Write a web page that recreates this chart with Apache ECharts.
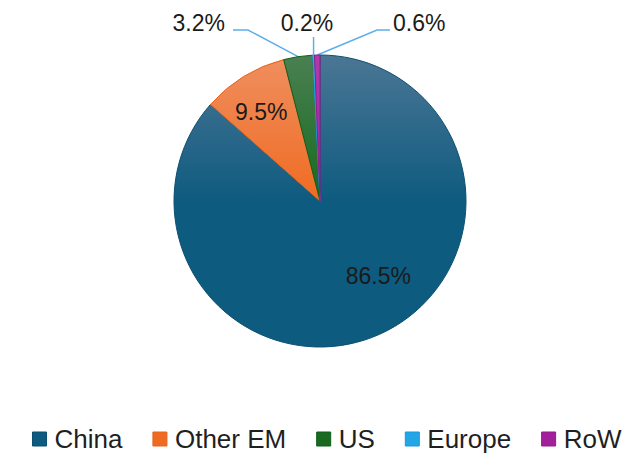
<!DOCTYPE html>
<html>
<head>
<meta charset="utf-8">
<style>
  html, body { margin: 0; padding: 0; background: #fff; }
  #chart { width: 640px; height: 461px; }
</style>
<script src="https://cdn.jsdelivr.net/npm/echarts@6/dist/echarts.min.js"></script>
</head>
<body>
<div id="chart"></div>
<script>
var regions = ['China', 'Other EM', 'US', 'Europe', 'RoW'];
var shares = [86.5, 9.5, 3.2, 0.2, 0.6];

// colours: top of gradient, bottom of gradient, border, legend swatch
var topColors = ['#4b7694', '#ef8e5e', '#4a8052', '#47b3ec', '#b23aaa'];
var baseColors = ['#0e5b80', '#f06b22', '#176a1f', '#22a6e6', '#a3209b'];
var borderColors = ['#0b4f72', '#e8641c', '#0f5e18', '#1a98d8', '#941a8c'];
var insideLabel = [true, true, false, false, false];

(function() {
  var chart = echarts.init(document.getElementById('chart'), null, { renderer: 'svg' });
  var font = 'Liberation Sans';
  var cx = 320, cy = 201, r = 146;
  var labelY = cy - r - 32;

  // nudges for the two inside labels
  var insideShift = { 0: [27, 6], 1: [-19, -24] };

  var pieData = regions.map(function(name, i) {
    var item = {
      name: name,
      value: shares[i],
      itemStyle: {
        color: {
          type: 'linear', x: 0, y: 0, x2: 0, y2: 1,
          colorStops: [
            { offset: 0, color: topColors[i] },
            { offset: i === 0 ? 0.5 : 1, color: baseColors[i] },
            { offset: 1, color: baseColors[i] }
          ]
        },
        borderColor: borderColors[i],
        borderWidth: 1
      }
    };
    if (insideLabel[i]) {
      item.label = { position: 'inside' };
      item.labelLine = { show: false };
    } else {
      item.label = { position: 'outside' };
      item.labelLine = { show: true };
    }
    return item;
  });

  chart.setOption({
    animation: false,
    backgroundColor: '#ffffff',
    legend: {
      data: regions.map(function(name, i) {
        return { name: name, itemStyle: { color: baseColors[i], borderColor: borderColors[i], borderWidth: 1 } };
      }),
      icon: 'rect',
      left: 27,
      top: 421,
      itemWidth: 14,
      itemHeight: 14,
      itemGap: 30,
      textStyle: { fontFamily: font, fontSize: 26, color: '#1f1f1f', padding: [0, 0, 0, 3] }
    },
    series: [
      {
        type: 'pie',
        center: [cx, cy],
        radius: r,
        startAngle: 90,
        clockwise: true,
        avoidLabelOverlap: false,
        label: {
          show: true,
          formatter: function(p) { return p.value.toFixed(1) + '%'; },
          fontFamily: font,
          fontSize: 23,
          color: '#1a1a1a'
        },
        labelLine: {
          show: true,
          lineStyle: { color: '#5eaee8', width: 1.5 }
        },
        emphasis: { disabled: true },
        labelLayout: function(p) {
          var i = p.dataIndex;
          if (insideShift[i]) {
            return { dx: insideShift[i][0], dy: insideShift[i][1] };
          }
          var start = p.labelLinePoints ? p.labelLinePoints[0] : [cx, cy - r];
          if (i === 2) {
            return {
              x: 225, y: labelY, align: 'right', verticalAlign: 'middle',
              labelLinePoints: [start, [248, labelY + 7], [233, labelY + 7]]
            };
          }
          if (i === 3) {
            return {
              x: 307, y: labelY, align: 'center', verticalAlign: 'middle',
              labelLinePoints: [start, [start[0], labelY + 14], [start[0], labelY + 14]]
            };
          }
          return {
            x: 393, y: labelY, align: 'left', verticalAlign: 'middle',
            labelLinePoints: [start, [377, labelY + 7], [390, labelY + 7]]
          };
        },
        data: pieData
      }
    ]
  });
  window.addEventListener('resize', function() { chart.resize(); });
})();
</script>
</body>
</html>
